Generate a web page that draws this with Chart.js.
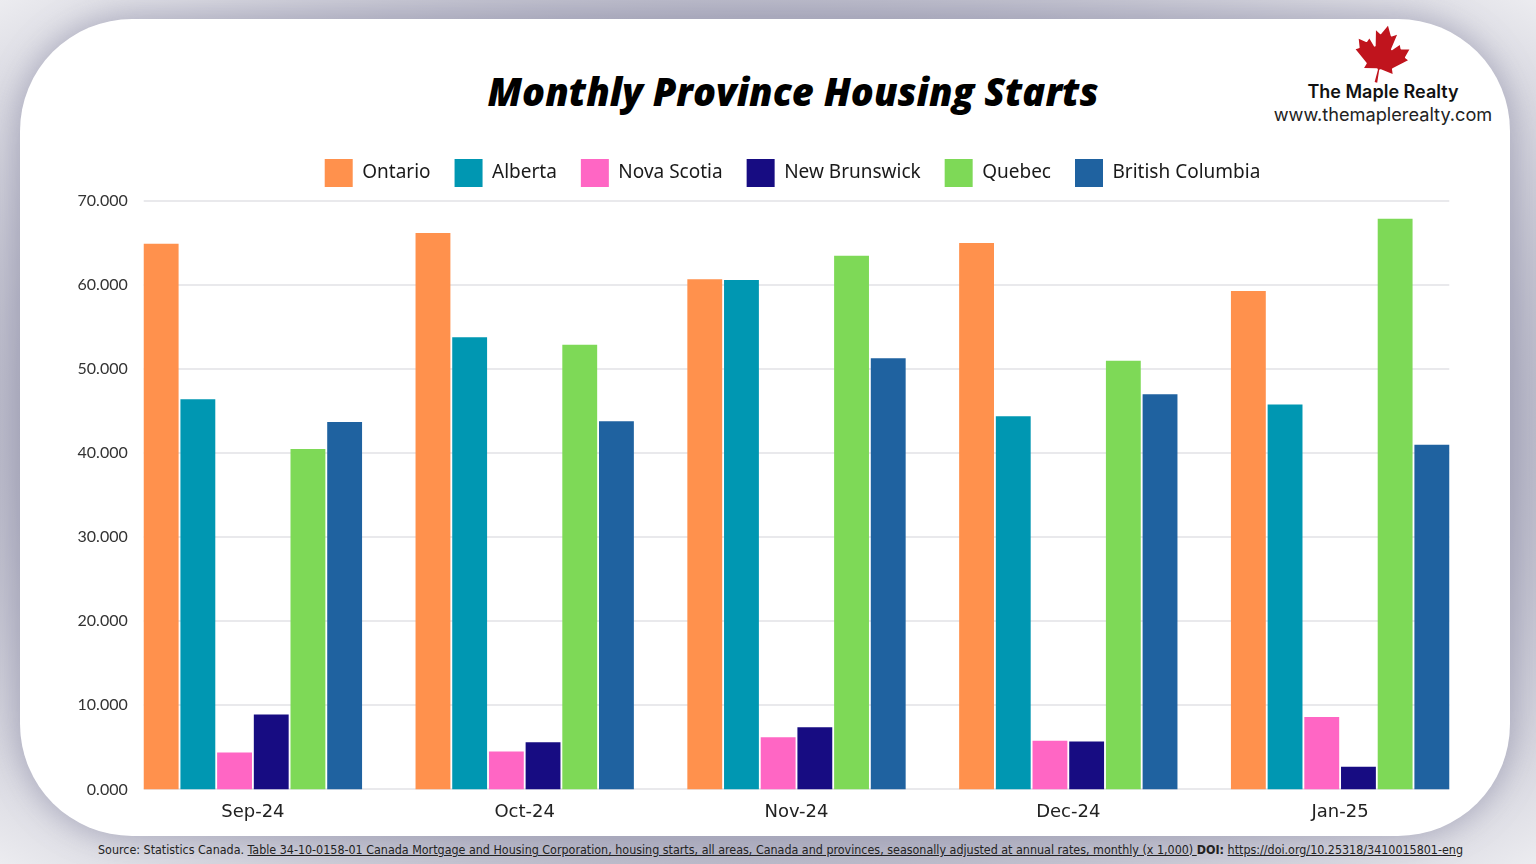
<!DOCTYPE html>
<html><head><meta charset="utf-8">
<script src="https://cdn.jsdelivr.net/npm/chart.js@4.4.1/dist/chart.umd.min.js"></script>
<style>
html,body{margin:0;padding:0;width:1536px;height:864px;overflow:hidden;}
body{position:relative;background:radial-gradient(ellipse farthest-corner at 50% 50%, #acacbd 0%, #b6b6c6 68%, #ececf0 100%);font-family:'Noto Sans',sans-serif;}
#card{position:absolute;left:20px;top:19px;width:1490px;height:817px;background:#fff;border-radius:112px;box-shadow:0 0 28px 4px rgba(140,140,165,0.55);}
#title{position:absolute;left:0;width:1586px;top:68px;text-align:center;font-family:'Open Sans',sans-serif;font-weight:800;font-style:italic;font-size:38px;line-height:46px;color:#000;}
#brand{position:absolute;left:1253px;width:260px;top:80px;text-align:center;font-family:Inter,sans-serif;color:#111;}
#brand .n{font-weight:600;font-size:18px;line-height:24px;}
#brand .u{font-weight:400;font-size:18.2px;line-height:20px;color:#222;}
#leaf{position:absolute;left:1352px;top:25px;width:60px;height:58px;}
#src{position:absolute;left:98px;top:842px;white-space:nowrap;font-family:'Liberation Sans Narrow','DejaVu Sans Condensed',sans-serif;font-size:12.5px;color:#222;transform-origin:0 0;}
#src u{text-decoration:underline;}
canvas{position:absolute;left:0;top:0;}
</style></head>
<body>
<div id="card"></div>
<div id="title">Monthly Province Housing Starts</div>
<svg id="leaf" viewBox="-2015 -2000 4030 4030"><g transform="rotate(12)"><path fill="#c0141d" d="m-90 2030 45-863a95 95 0 0 0-111-98l-859 151 116-320a65 65 0 0 0-20-73l-941-762 212-99a65 65 0 0 0 34-79l-186-572 542 115a65 65 0 0 0 73-38l105-247 423 454a65 65 0 0 0 111-57l-204-1052 327 189a65 65 0 0 0 91-27l332-652 332 652a65 65 0 0 0 91 27l327-189-204 1052a65 65 0 0 0 111 57l423-454 105 247a65 65 0 0 0 73 38l542-115-186 572a65 65 0 0 0 34 79l212 99-941 762a65 65 0 0 0-20 73l116 320-859-151a95 95 0 0 0-111 98l45 863z"/></g></svg>
<div id="brand"><div class="n">The Maple Realty</div><div class="u">www.themaplerealty.com</div></div>
<div id="src">Source: Statistics Canada. <u>Table 34-10-0158-01 Canada Mortgage and Housing Corporation, housing starts, all areas, Canada and provinces, seasonally adjusted at annual rates, monthly (x 1,000) </u><b>DOI:</b> <u>https://doi.org/10.25318/3410015801-eng</u></div>
<canvas id="c" width="1536" height="864"></canvas>
<script>
const months = ['Sep-24','Oct-24','Nov-24','Dec-24','Jan-25'];
const ontario = [64900, 66200, 60700, 65000, 59300];
const alberta = [46400, 53800, 60600, 44400, 45800];
const novaScotia = [4400, 4500, 6200, 5800, 8600];
const newBrunswick = [8900, 5600, 7400, 5700, 2700];
const quebec = [40500, 52900, 63500, 51000, 67900];
const britishColumbia = [43700, 43800, 51300, 47000, 41000];
const seriesNames = ['Ontario','Alberta','Nova Scotia','New Brunswick','Quebec','British Columbia'];
const seriesColors = ['#FF914D','#0097B2','#FF66C4','#170C82','#7ED957','#1F62A0'];
const seriesValues = [ontario, alberta, novaScotia, newBrunswick, quebec, britishColumbia];
const fmtTick = v => (v/1000).toFixed(3);

(function(){const s=document.getElementById('src');const w=s.getBoundingClientRect().width;s.style.transform='scaleX('+(1365/w)+')';})();

const gridPlugin = {
  id:'gridPlugin',
  beforeUpdate(chart){
    const lg = chart.legend;
    if (lg && !lg._patched){ const f = lg.fit; lg.fit = function(){ f.call(this); this.height += 4; }; lg._patched = true; }
  },
  beforeDatasetsDraw(chart){
    const y = chart.scales.y; const ctx = chart.ctx;
    const m0 = chart.getDatasetMeta(0).data[0];
    const mL = chart.getDatasetMeta(chart.data.datasets.length-1).data;
    const last = mL[mL.length-1];
    const x0 = m0.x - m0.width/2, x1 = last.x + last.width/2;
    ctx.save(); ctx.strokeStyle='#e9e9ec'; ctx.lineWidth=2;
    y.ticks.forEach(t=>{ const py = Math.round(y.getPixelForValue(t.value)); ctx.beginPath(); ctx.moveTo(x0,py); ctx.lineTo(x1,py); ctx.stroke(); });
    ctx.fillStyle='#333'; ctx.font='16px Lato'; ctx.textAlign='right'; ctx.textBaseline='middle';
    y.ticks.forEach(t=>{ ctx.fillText(fmtTick(t.value), x0 - 16, y.getPixelForValue(t.value)); });
    ctx.restore();
  }
};

new Chart(document.getElementById('c'), {
  type:'bar',
  data:{ labels: months, datasets: seriesNames.map((n,i)=>({label:n, data:seriesValues[i], backgroundColor:seriesColors[i], borderWidth:0, barPercentage:0.95, categoryPercentage:0.81})) },
  options:{
    responsive:false, animation:false,
    layout:{padding:{left:109,right:60,top:135,bottom:37}},
    plugins:{
      legend:{position:'top', labels:{boxWidth:28, boxHeight:28, padding:24, color:'#1a1a1a', font:{family:'Noto Sans', size:19}}},
      tooltip:{enabled:false}
    },
    scales:{
      x:{grid:{display:false}, border:{display:false}, ticks:{padding:4, color:'#222', font:{family:'DejaVu Sans', size:18}}},
      y:{min:0, max:70000, grid:{display:false}, border:{display:false},
         afterFit(s){ s.width = 8; },
         ticks:{display:false, stepSize:10000}}
    }
  },
  plugins:[gridPlugin]
});
</script>
</body></html>
